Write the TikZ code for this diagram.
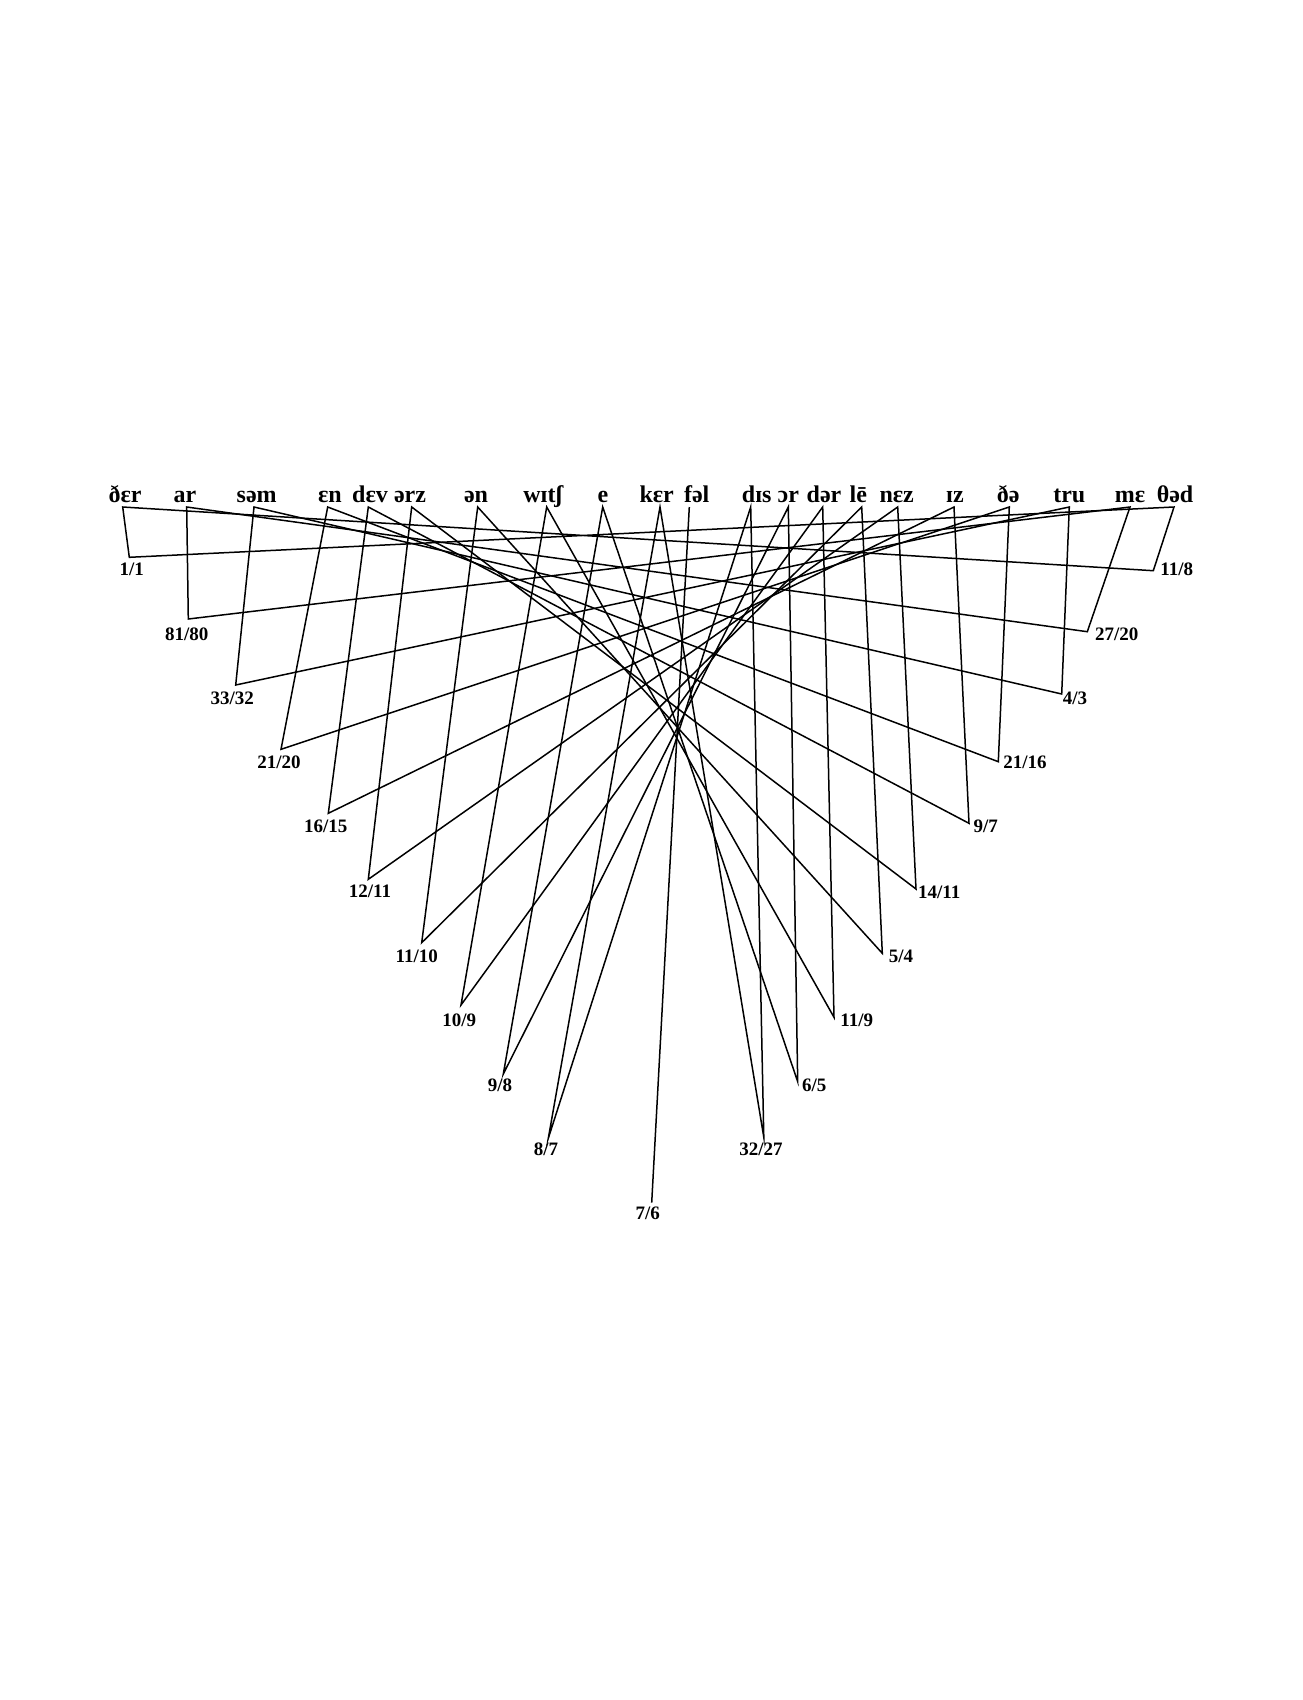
\documentclass[tikz,border=0pt]{standalone}
\usepackage{fontspec}
\setmainfont{Liberation Serif}
\usepackage{tikz}
\usetikzlibrary{positioning}

\begin{document}
\begin{tikzpicture}[x=1pt,y=-1pt,
    wire/.style={line width=1.5pt,line join=miter,miter limit=20},
    syl/.style={anchor=base,inner sep=0pt,font=\fontsize{24}{26}\selectfont\bfseries},
    ratio/.style={inner sep=0pt,font=\fontsize{19}{21}\selectfont\bfseries}]
  \useasboundingbox (0,0) rectangle (1303,1700);
  % syllables: number / vertex x / text x / word
  \foreach \n/\x/\tx/\word in {1/122.7/125/ðɛr, 2/186.7/185/ar, 3/254/256.7/səm,
      4/327.7/330/ɛn, 5/368.3/370/dɛv, 6/411.7/410/ərz, 7/477.7/476/ən,
      8/546.7/543/wɪtʃ, 9/602.7/603/e, 10/660/656.7/kɛr, 11/689.3/696.7/fəl,
      12/750.7/756.7/dɪs, 13/788.3/788.3/ɔr, 14/822.7/824/dər, 15/861.7/858.3/lē,
      16/897.7/896.7/nɛz, 17/954/955/ɪz, 18/1009.3/1008.3/ðə, 19/1069.3/1069.3/tru,
      20/1130/1130/mɛ, 21/1174/1175/θəd}{
    \coordinate (s\n) at (\x,507);
    \node[syl] (w\n) at (\tx,502) {\word};
  }
  % ratios: number / vertex / label centre / ratio
  \foreach \n/\x/\y/\lx/\ly/\r in {1/129.3/557.3/131.7/569/{1/1},
      2/188.3/619/186.7/634/{81/80}, 3/235.7/685/232.3/698/{33/32},
      4/281/749.3/279/762.7/{21/20}, 5/328.3/813.3/325.7/826.7/{16/15},
      6/368.3/879.3/370/891.7/{12/11}, 7/421.7/942.7/416.7/956/{11/10},
      8/461/1005/459.3/1020/{10/9}, 9/503.3/1074/500/1085/{9/8},
      10/548.3/1138.3/546/1149.3/{8/7}, 11/651.7/1202.7/647.7/1213.3/{7/6},
      12/763.8/1137.3/761/1149.3/{32/27}, 13/797.7/1081.7/814.3/1085/{6/5},
      14/834/1017.3/856.7/1020/{11/9}, 15/882.3/953.3/901/956.7/{5/4},
      16/916/889/939.3/892.7/{14/11}, 17/969/823.3/985.7/826.7/{9/7},
      18/998.3/761.7/1025/762.7/{21/16}, 19/1061.7/694/1075/698.3/{4/3},
      20/1087.3/631.7/1116.7/634/{27/20}, 21/1153.3/570.7/1176.7/569.3/{11/8}}{
    \coordinate (r\n) at (\x,\y);
    \node[ratio] (q\n) at (\lx,\ly) {\r};
  }
  % crossed quadrilaterals
  \foreach \i in {1,...,10}{
    \pgfmathtruncatemacro{\j}{22-\i}
    \draw[wire] (s\i) -- (r\i) -- (s\j) -- (r\j) -- cycle;
  }
  \draw[wire] (s11) -- (r11);
\end{tikzpicture}
\end{document}
